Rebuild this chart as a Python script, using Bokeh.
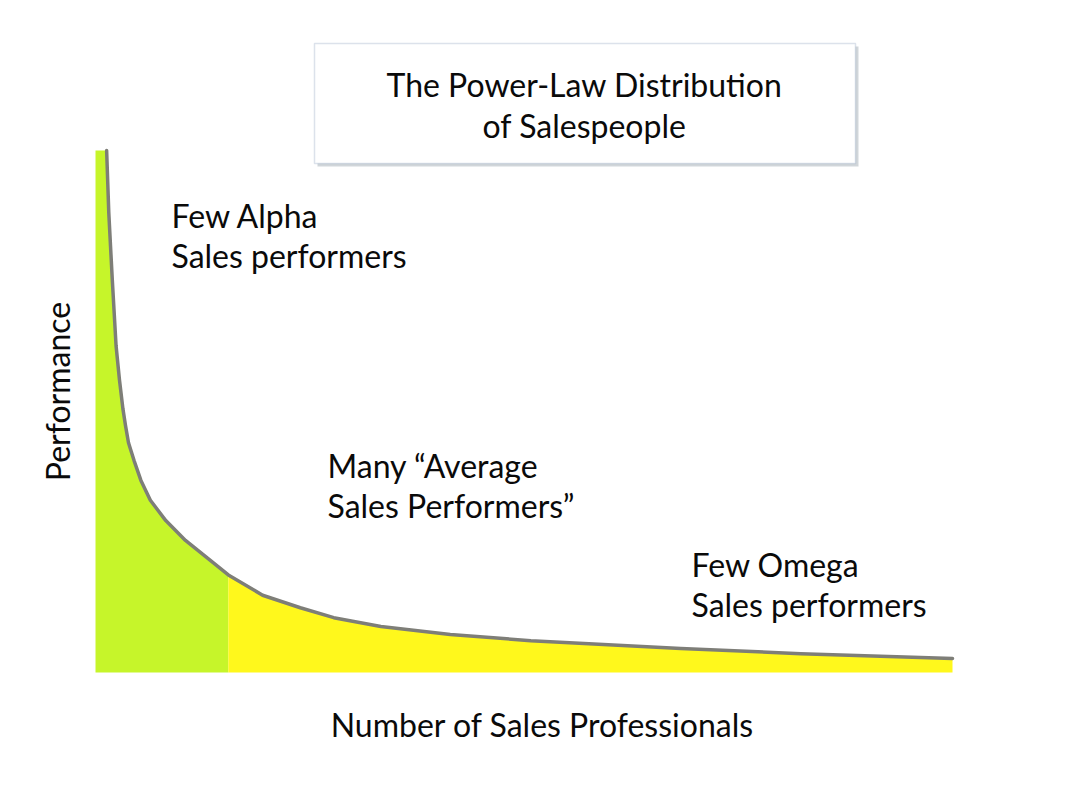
from bokeh.plotting import figure
from bokeh.models import Range1d, Label, BoxAnnotation
from bokeh.embed import file_html
from bokeh.resources import INLINE

# ---- data ----
professionals = [0.0, 1.3, 1.55, 1.95, 2.4, 2.8, 3.2, 3.5, 3.85, 4.5, 5.3, 6.4, 8.2, 10.5, 13.4,
                 15.5, 19.5, 23.9, 27.8, 33.3, 41.4, 50.8, 68.3, 82.3, 100.0]
performance = [100.0, 100.0, 88.1, 75.5, 62.6, 56.0, 50.5, 47.3, 44.0, 40.6, 36.8, 33.0, 29.1,
               25.3, 21.5, 18.7, 14.8, 12.4, 10.5, 8.8, 7.3, 6.1, 4.6, 3.6, 2.7]
alpha_cutoff = 15.5

title_lines = ["The Power-Law Distribution", "of Salespeople"]
alpha_text = ["Few Alpha", "Sales performers"]
average_text = ["Many \u201cAverage", "Sales Performers\u201d"]
omega_text = ["Few Omega", "Sales performers"]
x_label = "Number of Sales Professionals"
y_label = "Performance"

# ---- layout ----
W, H = 1071, 790
X0, X1 = 95.0, 952.0   # pixel positions of x=0 and x=100
Y0, Y1 = 672.0, 150.0  # pixel positions of y=0 and y=100
sx = (X1 - X0) / 100.0
sy = (Y0 - Y1) / 100.0

def dx(px):
    return (px - X0) / sx

def dy(py):
    return (Y0 - py) / sy

p = figure(width=W, height=H, output_backend="svg", toolbar_location=None,
           x_range=Range1d(dx(0), dx(W)), y_range=Range1d(dy(H), dy(0)),
           min_border=0, outline_line_color=None, background_fill_color="white",
           border_fill_color="white")
p.axis.visible = False
p.grid.visible = False

GREEN = "#C6F52A"
YELLOW = "#FFF81C"
LINE = "#7E7E78"

gx = [x for x in professionals if x <= alpha_cutoff]
gy = performance[:len(gx)]
yx = professionals[len(gx) - 1:]
yy = performance[len(gx) - 1:]

p.varea(x=gx, y1=0, y2=gy, fill_color=GREEN)
p.varea(x=yx, y1=0, y2=yy, fill_color=YELLOW)
p.line(professionals[1:], performance[1:], line_color=LINE, line_width=3.5,
       line_join="round", line_cap="round")

FONT = "Lato"
FS = "32px"
SHIFT = 13  # baseline correction

# title box with shadow
p.add_layout(BoxAnnotation(left=dx(317), right=dx(858), top=dy(46), bottom=dy(166),
                           fill_color="#9aa3ad", fill_alpha=0.45, line_color=None, level="annotation"))
p.add_layout(BoxAnnotation(left=dx(314), right=dx(855), top=dy(43), bottom=dy(163),
                           fill_color="white", fill_alpha=1.0, line_color="#8A9FBE",
                           line_width=1.5, level="annotation"))

def add_text(txt, px, py, align="left", angle=0.0, size=FS):
    p.add_layout(Label(x=dx(px), y=dy(py - SHIFT), text=txt, text_font=FONT, text_font_size=size,
                       text_color="#0a0a0a", text_align=align, text_baseline="alphabetic",
                       angle=angle))

add_text(title_lines[0], 584, 97, align="center")
add_text(title_lines[1], 584, 138, align="center")
add_text(alpha_text[0], 171, 228)
add_text(alpha_text[1], 171, 268)
add_text(average_text[0], 327, 478)
add_text(average_text[1], 327, 518)
add_text(omega_text[0], 691, 577)
add_text(omega_text[1], 691, 617)
add_text(x_label, 542, 737, align="center")
p.add_layout(Label(x=dx(57), y=dy(391), text=y_label, text_font=FONT, text_font_size=FS,
                   text_color="#0a0a0a", text_align="center", text_baseline="alphabetic",
                   angle=1.5708))

open("out.html", "w").write(file_html(p, INLINE))
